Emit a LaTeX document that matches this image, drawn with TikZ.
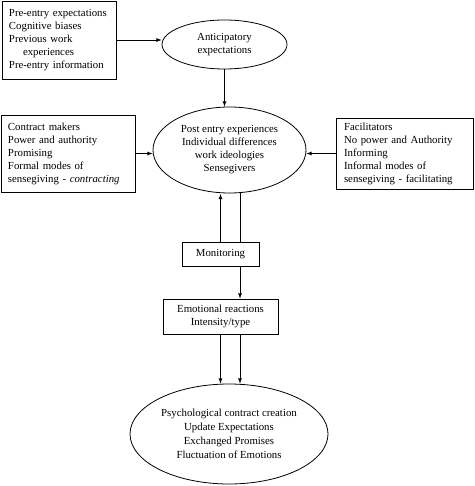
\documentclass[tikz,border=0pt]{standalone}
\usepackage{fontspec}
\setmainfont{Liberation Serif}
\usetikzlibrary{shapes.geometric, arrows}

\begin{document}
\begin{tikzpicture}[x=1pt, y=-1pt, >=latex, line width=0.8pt,
	every node/.style={font=\fontsize{10.8}{13}\selectfont, inner sep=0pt},
	oval/.style={draw, ellipse, align=center},
	box/.style={draw, rectangle, align=left, inner xsep=7pt}]
		\useasboundingbox (0,0) rectangle (474,486);
		\node[box, text width=100pt, minimum height=78pt] (pre) at (59,40) {Pre-entry expectations\\Cognitive biases\\Previous work\\\hspace*{1.3em}experiences\\Pre-entry information};
		\node[oval, minimum width=125pt, minimum height=49pt] (antic) at (224.5,44.5) {Anticipatory\\expectations};
		\node[oval, minimum width=153pt, minimum height=86pt] (post) at (229.5,150) {Post entry experiences\\Individual differences\\work ideologies\\Sensegivers};
		\node[box, text width=120pt, minimum height=77pt] (contract) at (68,153.5) {Contract makers\\Power and authority\\Promising\\Formal modes of\\sensegiving - \textit{contracting}};
		\node[box, text width=121pt, inner xsep=8pt, minimum height=71pt] (facil) at (404.5,153.5) {Facilitators\\No power and Authority\\Informing\\Informal modes of\\sensegiving - facilitating};
		\node[box, align=center, minimum width=77pt, minimum height=24pt] (monit) at (220.5,254) {Monitoring};
		\node[box, align=center, minimum width=115pt, minimum height=35pt] (emot) at (220.5,316.5) {Emotional reactions\\Intensity/type};
		\node[oval, font=\fontsize{10.8}{14}\selectfont, minimum width=198pt, minimum height=100pt] (psych) at (229,434) {Psychological contract creation\\Update Expectations\\Exchanged Promises\\Fluctuation of Emotions};

		\draw[->] (pre.east) -- (antic.west |- pre.east);
		\draw[->] (antic.south) -- (antic.south |- post.north);
		\draw[->] (contract.east) -- (post.west |- contract.east);
		\draw[->] (facil.west) -- (post.east |- facil.west);
		\draw[->] (monit.north) -- ([yshift=-0.5pt]monit.north |- post.south);
		\draw ([xshift=10.5pt]post.south) -- ([xshift=10.5pt]post.south |- monit.north);
		\draw[->] ([xshift=19.5pt]monit.south) -- ([xshift=19.5pt]monit.south |- emot.north);
		\draw[->] (emot.south) -- (emot.south |- psych.north);
		\draw[->] ([xshift=19.5pt]emot.south) -- ([xshift=19.5pt]emot.south |- psych.north);
	\end{tikzpicture}
\end{document}
